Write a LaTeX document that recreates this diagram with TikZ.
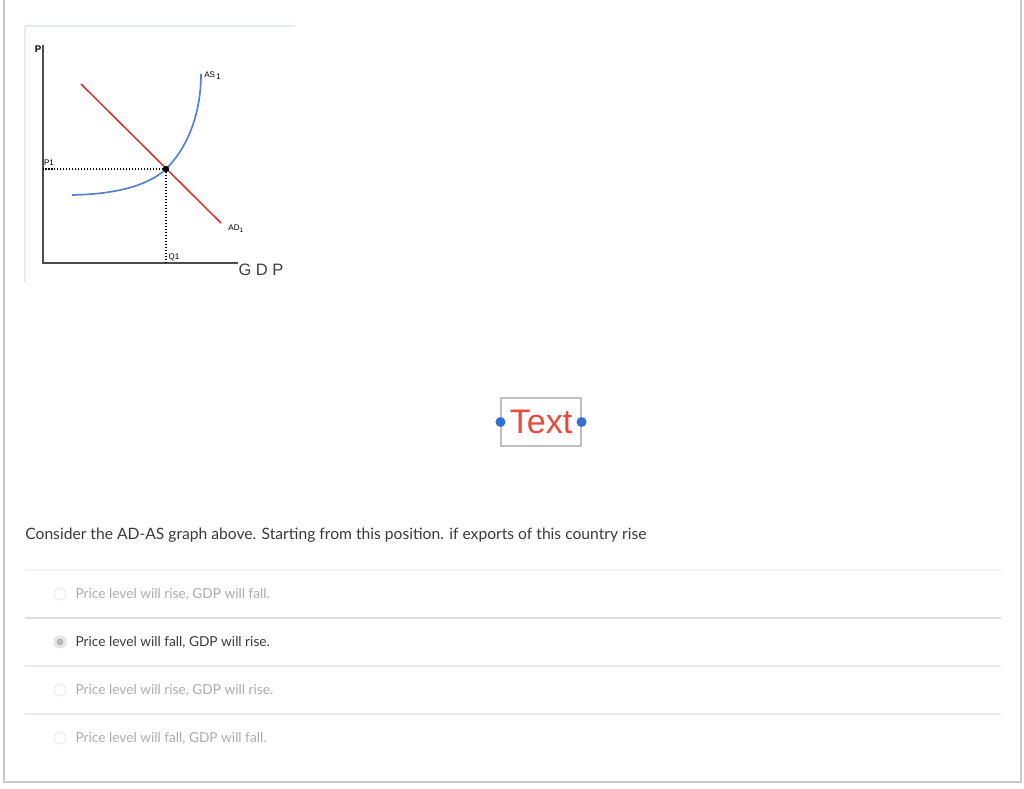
\documentclass[tikz,border=0pt]{standalone}
\usepackage{fontspec}
\setmainfont{Lato}
\newfontfamily\arial{Liberation Sans}
\usetikzlibrary{positioning, calc}
\definecolor{framegray}{HTML}{C8C8C8}
\definecolor{rulegray}{HTML}{EAEAEA}
\definecolor{imgblue}{HTML}{E2ECF5}
\definecolor{adred}{HTML}{D0312B}
\definecolor{asblue}{HTML}{5282CC}
\definecolor{textred}{HTML}{EA4A3B}
\definecolor{dotblue}{HTML}{3170D2}
\definecolor{qtext}{HTML}{3A3A3A}
\definecolor{fadetext}{HTML}{ABABAB}
\tikzstyle{axis} = [line width=1.1pt, draw=black!70]
\tikzstyle{guide} = [densely dotted, line width=0.7pt]
\tikzstyle{lbl} = [font=\arial\fontsize{4.6}{5}\selectfont, inner sep=0pt]
\tikzstyle{rule} = [line width=0.6pt, draw=rulegray]
\tikzstyle{radio} = [circle, draw=black!9, fill=white, line width=0.5pt, minimum size=0.24cm, inner sep=0pt]
\tikzstyle{option} = [anchor=west, font=\fontsize{7.8}{9}\selectfont, text=fadetext, inner sep=0pt]

\begin{document}
\begin{tikzpicture}[x=0.02cm, y=-0.02cm]
    \useasboundingbox (0,0) rectangle (1024,788);
    % page frame
    \draw [framegray, line width=0.8pt] (4,0) -- (4,782) -- (1021,782) -- (1021,0);

    % image edges
    \draw [imgblue, line width=1.6pt] (25,26) -- (295,26);
    \draw [black!8, line width=0.6pt] (25,26) -- (25,282);

    % axes
    \coordinate (origin) at (43,263);
    \coordinate (ytop) at (43,45);
    \coordinate (xend) at (238,263);
    \draw [axis] (ytop) -- (origin) -- (xend);
    \node (plbl) [lbl, font=\arial\bfseries\fontsize{5.5}{6}\selectfont] at (38,49) {P};
    \node (gdp) [inner sep=0pt, font=\arial\fontsize{9.4}{10}\selectfont, text=black!75] at (261,270) {G D P};

    % equilibrium
    \coordinate (eq) at (166,169);
    \draw [guide] (eq) -- (origin |- eq);
    \draw [guide] (eq) -- (eq |- origin);
    \node (p1) [lbl] at (49,163) {P1};
    \node (q1) [lbl] at (174,257) {Q1};

    % AD curve
    \coordinate (adtop) at (81,84);
    \coordinate (adbot) at (221,223);
    \draw [adred, line width=0.85pt] (adtop) -- (adbot);
    \node (adlbl) [lbl, below right=1pt and 4pt of adbot] {AD\raisebox{-1.2pt}{\fontsize{3.6}{4}\selectfont 1}};

    % AS curve
    \coordinate (asleft) at (72,195);
    \coordinate (astop) at (201,74);
    \draw [asblue, line width=0.95pt] (asleft) .. controls (125,194) and (152,182) .. (eq)
        .. controls (190,145) and (201,110) .. (astop);
    \node (aslbl) [lbl, anchor=west] at (204,76) {AS\,\raisebox{-1pt}{1}};

    \fill [black] (eq) circle (3.2);

    % text box
    \node (txt) [draw=black!25, line width=0.6pt, text=textred, minimum width=1.6cm, minimum height=0.96cm, inner sep=0pt, font=\arial\fontsize{19.4}{21}\selectfont] at (541,422) {Text};
    \fill [dotblue] (txt.west) circle (5);
    \fill [dotblue] (txt.east) circle (5);

    % question
    \node (quest) [anchor=west, inner sep=0pt, text=qtext, font=\fontsize{8.9}{10}\selectfont] at (25,535) {Consider the AD-AS graph above. Starting from this position. if exports of this country rise};

    % rules between answers
    \draw [rule, draw=black!5] (25,570) -- (1001,570);
    \draw [rule, draw=black!13] (25,618) -- (1001,618);
    \draw [rule] (25,666) -- (1001,666);
    \draw [rule] (25,714) -- (1001,714);

    % answers
    \node (r1) [radio] at (60,594) {};
    \node (a1) [option, right=5pt of r1] {Price level will rise, GDP will fall.};
    \node (r2) [radio, fill=black!8, draw=black!12] at (60,642) {};
    \fill [black!28] (r2) circle (3.6);
    \node (a2) [option, right=5pt of r2, text=qtext] {Price level will fall, GDP will rise.};
    \node (r3) [radio] at (60,690) {};
    \node (a3) [option, right=5pt of r3] {Price level will rise, GDP will rise.};
    \node (r4) [radio] at (60,738) {};
    \node (a4) [option, right=5pt of r4] {Price level will fall, GDP will fall.};
\end{tikzpicture}
\end{document}
